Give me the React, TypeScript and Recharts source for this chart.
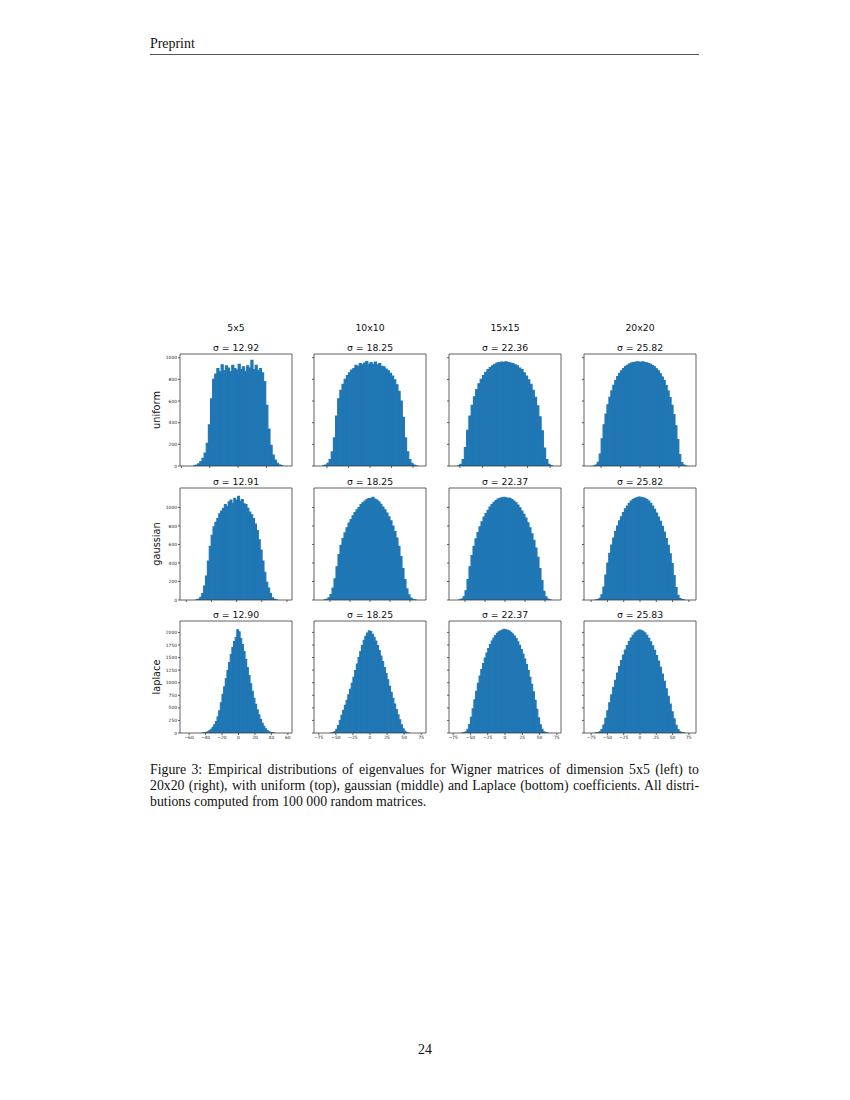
import { BarChart, Bar, XAxis, YAxis, ReferenceLine } from 'recharts';

// column / row headers
const sizes = ['5x5', '10x10', '15x15', '20x20'];
const coefficients = ['uniform', 'gaussian', 'laplace'];
const sigmaLabels = [
  ['12.92', '18.25', '22.36', '25.82'],
  ['12.91', '18.25', '22.37', '25.82'],
  ['12.90', '18.25', '22.37', '25.83'],
];

// histogram counts (one value per bin)
const uniform5 = [2, 8, 20, 40, 70, 120, 210, 380, 620, 800, 850, 900, 870, 935, 880, 925, 905, 870, 930, 900, 885, 940, 890, 915, 875, 925, 905, 975, 890, 930, 880, 900, 860, 780, 560, 340, 190, 100, 55, 25, 10, 3];
const uniform10 = [2, 8, 25, 60, 130, 260, 460, 620, 700, 755, 800, 835, 860, 885, 900, 930, 920, 945, 935, 950, 965, 940, 955, 940, 960, 935, 945, 920, 915, 895, 880, 855, 830, 795, 750, 690, 600, 450, 260, 130, 60, 25, 8, 2];
const uniform15 = [3, 15, 60, 170, 330, 460, 560, 640, 705, 760, 800, 835, 865, 890, 910, 925, 940, 950, 955, 960, 958, 962, 955, 950, 945, 935, 925, 905, 890, 860, 830, 795, 755, 700, 635, 555, 455, 325, 165, 60, 15, 3];
const uniform20 = [2, 10, 35, 110, 250, 380, 480, 565, 635, 695, 745, 790, 825, 855, 880, 900, 918, 930, 942, 950, 955, 958, 962, 960, 958, 962, 955, 952, 945, 938, 928, 915, 898, 878, 852, 822, 788, 742, 692, 632, 560, 475, 372, 245, 105, 33, 10, 2];

const gaussian5 = [3, 10, 30, 70, 150, 260, 420, 580, 700, 790, 840, 880, 930, 960, 990, 1030, 1010, 1060, 1080, 1045, 1100, 1080, 1120, 1070, 1085, 1040, 1030, 990, 950, 920, 880, 820, 750, 650, 540, 420, 300, 190, 130, 70, 25, 8, 2];
const gaussian10 = [2, 8, 25, 60, 130, 230, 360, 490, 590, 665, 725, 780, 830, 870, 910, 945, 975, 1000, 1030, 1050, 1070, 1085, 1095, 1100, 1110, 1090, 1080, 1060, 1035, 1005, 975, 940, 900, 855, 800, 740, 670, 580, 470, 340, 220, 120, 55, 22, 7, 2];
const gaussian15 = [2, 10, 35, 100, 220, 360, 480, 580, 660, 730, 790, 845, 895, 935, 970, 1005, 1030, 1055, 1075, 1090, 1100, 1105, 1110, 1105, 1100, 1098, 1085, 1070, 1050, 1025, 995, 960, 925, 885, 835, 780, 715, 645, 560, 460, 340, 210, 95, 35, 10, 2];
const gaussian20 = [1, 5, 18, 55, 140, 270, 400, 505, 595, 670, 740, 800, 855, 900, 945, 985, 1015, 1045, 1070, 1085, 1098, 1105, 1112, 1110, 1105, 1098, 1085, 1068, 1045, 1015, 980, 940, 895, 850, 795, 735, 665, 590, 500, 395, 265, 135, 52, 17, 5, 1];

const laplace5 = [2, 5, 12, 25, 45, 75, 115, 165, 230, 320, 440, 600, 770, 920, 1080, 1240, 1400, 1560, 1700, 1820, 1900, 2050, 2010, 1880, 1760, 1620, 1460, 1300, 1140, 980, 830, 690, 570, 460, 360, 270, 195, 135, 85, 50, 25, 12, 5, 2];
const laplace10 = [2, 10, 30, 75, 150, 250, 350, 450, 550, 650, 760, 870, 990, 1110, 1240, 1370, 1500, 1620, 1740, 1845, 1925, 1985, 2030, 2015, 1965, 1905, 1830, 1740, 1640, 1530, 1420, 1300, 1180, 1060, 930, 810, 690, 575, 465, 360, 260, 165, 85, 35, 10, 2];
const laplace15 = [2, 8, 25, 75, 170, 310, 480, 660, 830, 990, 1130, 1260, 1380, 1490, 1590, 1680, 1760, 1830, 1890, 1940, 1980, 2010, 2030, 2045, 2060, 2050, 2040, 2025, 2000, 1970, 1930, 1880, 1815, 1745, 1660, 1570, 1470, 1360, 1240, 1110, 970, 820, 650, 470, 300, 165, 72, 25, 8, 2];
const laplace20 = [2, 8, 25, 70, 160, 290, 440, 600, 760, 910, 1050, 1190, 1320, 1440, 1550, 1650, 1740, 1820, 1890, 1945, 1990, 2020, 2045, 2040, 2020, 1990, 1945, 1885, 1815, 1735, 1645, 1540, 1430, 1305, 1170, 1030, 880, 730, 575, 420, 280, 155, 68, 25, 8, 2];

const counts = [
  [uniform5, uniform10, uniform15, uniform20],
  [gaussian5, gaussian10, gaussian15, gaussian20],
  [laplace5, laplace10, laplace15, laplace20],
];

// bin layout: centre of first bin and bin width
const firstBin = [
  [-30.75, -43, -51.25, -58.75],
  [-31.5, -45, -56.25, -67.5],
  [-43, -56.25, -61.25, -67.5],
];
const binWidth = [
  [1.5, 2, 2.5, 2.5],
  [1.5, 2, 2.5, 3],
  [2, 2.5, 2.5, 3],
];

// axes
const xDomains = [
  [[-41, 38], [-52, 52], [-62, 62], [-72, 72]],
  [[-45, 44], [-56, 56], [-70, 70], [-86, 86]],
  [[-71, 65], [-82, 82], [-81, 81], [-86, 86]],
];
const ticks20a = [-40, -20, 0, 20];
const ticks20b = [-40, -20, 0, 20, 40];
const ticks20c = [-60, -40, -20, 0, 20, 40, 60];
const ticks25a = [-50, -25, 0, 25, 50];
const ticks25b = [-75, -50, -25, 0, 25, 50, 75];
const xTicks = [
  [ticks20a, ticks20b, ticks25a, ticks25a],
  [ticks20b, ticks20b, ticks25a, ticks25b],
  [ticks20c, ticks25b, ticks25b, ticks25b],
];
const yMax = [1034, 1210, 2227];
const yTicks = [
  [0, 200, 400, 600, 800, 1000],
  [0, 200, 400, 600, 800, 1000],
  [0, 250, 500, 750, 1000, 1250, 1500, 1750, 2000],
];

const frameLeft = [180, 314, 449, 584];
const frameTop = [354, 488, 621];
const PW = 112;
const PH = 112;
const BLUE = '#2077b4';
const AXIS = '#3a3a3a';
const SANS = 'DejaVu Sans';
const SERIF = 'Liberation Serif';

const fmt = (v: number) => (v < 0 ? '\u2212' + Math.abs(v) : String(v));
const blank = () => '';

const Panel = ({ row, col }: { row: number; col: number }) => {
  const start = firstBin[row][col];
  const step = binWidth[row][col];
  const [d0, d1] = xDomains[row][col];
  const data = counts[row][col].map((y, i) => ({ x: start + i * step, y }));
  // one bin wide in pixels, a hair under so recharts keeps the exact size
  const barSize = (step * PW) / (d1 - d0) - 0.005;
  const yw = col === 0 ? 26 : 4;
  const xh = row === 2 ? 12 : 4;
  const tickFont = { fontSize: 4.4, fill: '#222', fontFamily: SANS };
  const axisLine = { stroke: AXIS, strokeWidth: 0.8 };
  return (
    <div style={{ position: 'absolute', left: frameLeft[col] - yw, top: frameTop[row] - 1 }}>
      <BarChart
        width={yw + PW + 1}
        height={PH + xh + 1}
        data={data}
        margin={{ top: 1, right: 1, left: 0, bottom: 0 }}
        barCategoryGap={0}
        barGap={0}
      >
        <XAxis
          xAxisId="b"
          type="number"
          dataKey="x"
          domain={[d0, d1]}
          ticks={xTicks[row][col]}
          allowDataOverflow
          interval={0}
          height={xh}
          tickSize={2}
          tickMargin={1}
          axisLine={axisLine}
          tickLine={axisLine}
          tick={tickFont}
          tickFormatter={row === 2 ? fmt : blank}
        />
        <YAxis
          yAxisId="l"
          type="number"
          domain={[0, yMax[row]]}
          ticks={yTicks[row]}
          allowDataOverflow
          interval={0}
          width={yw}
          tickSize={2}
          tickMargin={1}
          axisLine={axisLine}
          tickLine={axisLine}
          tick={tickFont}
          tickFormatter={col === 0 ? (v: number) => String(v) : blank}
        />
        {/* stroke in the fill colour closes the hairline seams between bins */}
        <Bar
          xAxisId="b"
          yAxisId="l"
          dataKey="y"
          fill={BLUE}
          stroke={BLUE}
          strokeWidth={1.1}
          barSize={barSize}
          isAnimationActive={false}
        />
        <ReferenceLine xAxisId="b" yAxisId="l" y={yMax[row]} stroke={AXIS} strokeWidth={0.8} />
        <ReferenceLine xAxisId="b" yAxisId="l" x={d1} stroke={AXIS} strokeWidth={0.8} />
      </BarChart>
    </div>
  );
};

const abs = (left: number, top: number, extra: object = {}) => ({
  position: 'absolute' as const,
  left,
  top,
  ...extra,
});

export default function App() {
  return (
    <div style={{ position: 'absolute', left: 0, top: 0, width: 850, height: 1100, background: '#fff' }}>
      <div style={abs(150, 37, { fontFamily: SERIF, fontSize: 13.9, lineHeight: '14px', color: '#111' })}>Preprint</div>
      <div style={abs(150, 53.5, { width: 549, height: 0, borderTop: '1px solid #555' })} />

      {sizes.map((s, c) => (
        <div
          key={s}
          style={abs(frameLeft[c], 323, {
            width: PW,
            textAlign: 'center',
            fontFamily: SANS,
            fontSize: 9.3,
            lineHeight: '10px',
            color: '#111',
          })}
        >
          {s}
        </div>
      ))}

      {coefficients.map((name, r) => (
        <div key={name}>
          <div
            style={abs(157, frameTop[r] + PH / 2, {
              transform: 'translate(-50%, -50%) rotate(-90deg)',
              whiteSpace: 'nowrap',
              fontFamily: SANS,
              fontSize: 9.8,
              lineHeight: '10px',
              color: '#111',
            })}
          >
            {name}
          </div>
          {sizes.map((s, c) => (
            <div key={s}>
              <div
                style={abs(frameLeft[c], frameTop[r] - 11, {
                  width: PW,
                  textAlign: 'center',
                  fontFamily: SANS,
                  fontSize: 9.3,
                  lineHeight: '10px',
                  color: '#111',
                  whiteSpace: 'nowrap',
                })}
              >
                {'σ = ' + sigmaLabels[r][c]}
              </div>
              <Panel row={r} col={c} />
            </div>
          ))}
        </div>
      ))}

      <div
        style={abs(150, 762, {
          width: 549,
          fontFamily: SERIF,
          fontSize: 13.8,
          lineHeight: '16.2px',
          color: '#111',
        })}
      >
        <div style={{ textAlign: 'justify', textAlignLast: 'justify', whiteSpace: 'nowrap' }}>
          Figure 3: Empirical distributions of eigenvalues for Wigner matrices of dimension 5x5 (left) to
        </div>
        <div style={{ textAlign: 'justify', textAlignLast: 'justify', whiteSpace: 'nowrap' }}>
          20x20 (right), with uniform (top), gaussian (middle) and Laplace (bottom) coefficients. All distri-
        </div>
        <div style={{ whiteSpace: 'nowrap' }}>butions computed from 100 000 random matrices.</div>
      </div>

      <div style={abs(400, 1043, { width: 50, textAlign: 'center', fontFamily: SERIF, fontSize: 13.9, lineHeight: '14px', color: '#111' })}>
        24
      </div>
    </div>
  );
}
